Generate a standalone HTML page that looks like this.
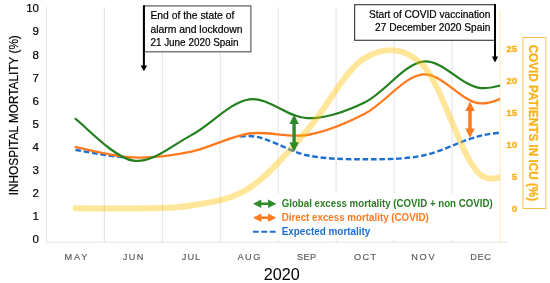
<!DOCTYPE html>
<html lang="en"><head><meta charset="utf-8"><title>Inhospital mortality 2020</title>
<style>html,body{margin:0;padding:0;background:#fff;}body{width:550px;height:283px;overflow:hidden;}svg{display:block;}text{font-family:"Liberation Sans",Arial,sans-serif;}</style>
</head><body>
<svg width="550" height="283" viewBox="0 0 550 283">
<rect x="0" y="0" width="550" height="283" fill="#ffffff"/>
<g stroke="#e4e4e4" stroke-width="1.1" fill="none">
<line x1="46.5" y1="7" x2="46.5" y2="242" />
<line x1="104.4" y1="7" x2="104.4" y2="242" />
<line x1="162.4" y1="7" x2="162.4" y2="242" />
<line x1="220.3" y1="7" x2="220.3" y2="242" />
<line x1="278.2" y1="7" x2="278.2" y2="242" />
<line x1="336.1" y1="7" x2="336.1" y2="242" />
<line x1="394.1" y1="7" x2="394.1" y2="242" />
<line x1="452.0" y1="7" x2="452.0" y2="242" />
<line x1="46" y1="242.3" x2="507.8" y2="242.3" />
</g>
<line x1="500.1" y1="10" x2="500.1" y2="242" stroke="#fff0c4" stroke-width="1.4"/>
<rect x="250" y="193.5" width="249" height="46" fill="#ffffff"/>
<defs><clipPath id="plotclip"><rect x="46" y="0" width="454.1" height="243"/></clipPath></defs>
<g clip-path="url(#plotclip)">
<clipPath id="blueclip"><rect x="46" y="0" width="77" height="243"/><rect x="239" y="0" width="262" height="243"/></clipPath>
<path d="M75.5 150.0 C85.2 151.3 114.1 157.5 133.4 157.8 C152.7 158.1 172.1 155.4 191.4 151.8 C210.7 148.2 230.0 135.4 249.3 136.0 C268.6 136.6 287.9 151.4 307.2 155.3 C326.5 159.2 345.8 159.3 365.1 159.3 C384.5 159.3 403.8 159.4 423.1 155.5 C442.4 151.6 461.7 140.1 481.0 135.7 C500.3 131.3 529.3 130.3 538.9 129.2" fill="none" stroke="#1f6fd1" stroke-width="2.4" stroke-dasharray="5.7 2.7" clip-path="url(#blueclip)"/>
<path d="M75.5 147.1 C85.2 148.8 114.1 156.7 133.4 157.4 C152.7 158.2 172.1 155.6 191.4 151.6 C210.7 147.6 230.0 136.3 249.3 133.5 C268.6 130.7 287.9 138.3 307.2 135.0 C326.5 131.7 345.8 123.7 365.1 113.6 C384.5 103.5 403.8 76.1 423.1 74.4 C442.4 72.7 461.7 102.9 481.0 103.4 C500.3 103.9 529.3 81.7 538.9 77.3" fill="none" stroke="#ff7a1f" stroke-width="2.3" stroke-linecap="round"/>
<path d="M75.5 118.9 C85.2 125.9 114.1 158.0 133.4 160.7 C152.7 163.4 172.1 145.3 191.4 135.1 C210.7 124.9 230.0 102.2 249.3 99.4 C268.6 96.6 287.9 117.7 307.2 118.2 C326.5 118.7 345.8 111.6 365.1 102.2 C384.5 92.8 403.8 64.0 423.1 61.6 C442.4 59.2 461.7 86.5 481.0 88.1 C500.3 89.7 529.3 73.9 538.9 71.1" fill="none" stroke="#23801e" stroke-width="2.2" stroke-linecap="round"/>
<path d="M75.5 208.3 C85.2 208.3 114.1 208.9 133.4 208.4 C152.7 207.9 172.1 208.9 191.4 205.5 C210.7 202.1 230.0 200.4 249.3 187.9 C268.6 175.4 287.9 152.0 307.2 130.3 C326.5 108.6 345.8 68.6 365.1 57.8 C384.5 47.0 403.8 45.9 423.1 65.5 C442.4 85.1 461.7 160.9 481.0 175.2 C500.3 189.5 529.3 155.3 538.9 151.3" fill="none" stroke="#ffc000" stroke-opacity="0.4" stroke-width="6" stroke-linecap="round" stroke-linejoin="round"/>
</g>
<path d="M294.1 114.5 L298.8 124.1 L295.8 124.1 L295.8 142.3 L298.8 142.3 L294.1 151.9 L289.4 142.3 L292.4 142.3 L292.4 124.1 L289.4 124.1 Z" fill="#2e8b2a"/>
<path d="M470.0 101.5 L474.7 111.1 L471.7 111.1 L471.7 128.4 L474.7 128.4 L470.0 138.0 L465.3 128.4 L468.3 128.4 L468.3 111.1 L465.3 111.1 Z" fill="#ff7a1f"/>
<path d="M253.1 203.7 L261.3 199.5 L261.3 202.5 L268.1 202.5 L268.1 199.5 L276.3 203.7 L268.1 207.9 L268.1 204.9 L261.3 204.9 L261.3 207.9 Z" fill="#2e8b2a"/>
<path d="M253.1 217.8 L261.3 213.6 L261.3 216.6 L268.1 216.6 L268.1 213.6 L276.3 217.8 L268.1 222.0 L268.1 219.0 L261.3 219.0 L261.3 222.0 Z" fill="#ff7a1f"/>
<line x1="253" y1="231.7" x2="276" y2="231.7" stroke="#1f6fd1" stroke-width="2" stroke-dasharray="5.8 2.6"/>
<g font-weight="bold" font-size="10.1">
<text x="281.7" y="206.7" fill="#2a7d24" textLength="211" lengthAdjust="spacingAndGlyphs">Global excess mortality (COVID + non COVID)</text>
<text x="281.7" y="220.8" fill="#ff7a1f" textLength="147" lengthAdjust="spacingAndGlyphs">Direct excess mortality (COVID)</text>
<text x="281.7" y="234.5" fill="#1f6fd1" textLength="88.7" lengthAdjust="spacingAndGlyphs">Expected mortality</text>
</g>
<g font-size="11.5" fill="#000000" stroke="#000000" stroke-width="0.2" text-anchor="end">
<text x="39" y="242.9">0</text>
<text x="39" y="219.8">1</text>
<text x="39" y="196.8">2</text>
<text x="39" y="173.8">3</text>
<text x="39" y="150.7">4</text>
<text x="39" y="127.7">5</text>
<text x="39" y="104.6">6</text>
<text x="39" y="81.6">7</text>
<text x="39" y="58.5">8</text>
<text x="39" y="35.4">9</text>
<text x="39" y="12.4">10</text>
</g>
<text transform="translate(18.2 115.2) rotate(-90)" text-anchor="middle" font-size="13" fill="#000000" stroke="#000000" stroke-width="0.2" textLength="160" lengthAdjust="spacingAndGlyphs">INHOSPITAL MORTALITY (%)</text>
<g font-size="9.9" font-weight="bold" fill="#f7b21a" stroke="#f7b21a" stroke-width="0.3" text-anchor="end">
<text x="517.2" y="211.8">0</text>
<text x="517.2" y="179.8">5</text>
<text x="517.2" y="147.7">10</text>
<text x="517.2" y="115.7">15</text>
<text x="517.2" y="83.6">20</text>
<text x="517.2" y="51.6">25</text>
</g>
<rect x="523" y="37.5" width="22.8" height="171" fill="#ffffff" stroke="#f5c04a" stroke-width="1"/>
<text transform="translate(528.6 122.9) rotate(90)" text-anchor="middle" font-size="13.5" font-weight="bold" fill="#f7b21a" stroke="#f7b21a" stroke-width="0.3" textLength="156.5" lengthAdjust="spacingAndGlyphs">COVID PATIENTS IN ICU (%)</text>
<g font-size="9.2" fill="#595959" stroke="#595959" stroke-width="0.15">
<text x="64.5" y="260.3" textLength="22.8" lengthAdjust="spacing">MAY</text>
<text x="122.7" y="260.3" textLength="20.8" lengthAdjust="spacing">JUN</text>
<text x="181.8" y="260.3" textLength="18.4" lengthAdjust="spacing">JUL</text>
<text x="237.5" y="260.3" textLength="22.8" lengthAdjust="spacing">AUG</text>
<text x="297.1" y="260.3" textLength="19.1" lengthAdjust="spacing">SEP</text>
<text x="353.9" y="260.3" textLength="22.2" lengthAdjust="spacing">OCT</text>
<text x="411.2" y="260.3" textLength="23.4" lengthAdjust="spacing">NOV</text>
<text x="470.3" y="260.3" textLength="20.5" lengthAdjust="spacing">DEC</text>
</g>
<text x="281.8" y="279.8" text-anchor="middle" font-size="16.2" fill="#000000">2020</text>
<rect x="144.2" y="5.9" width="106.7" height="45.9" fill="#ffffff" stroke="#555555" stroke-width="1.15"/>
<path d="M143.9 5.3 L143.9 66.5" stroke="#000000" stroke-width="2" fill="none"/>
<path d="M140.6 65.6 L147.2 65.6 L143.9 71.3 Z" fill="#000000"/>
<g font-size="10.3" fill="#000000" stroke="#000000" stroke-width="0.2">
<text x="150.4" y="18.9" textLength="83.9" lengthAdjust="spacingAndGlyphs">End of the state of</text>
<text x="150.4" y="32.6" textLength="92.2" lengthAdjust="spacingAndGlyphs">alarm and lockdown</text>
<text x="150.4" y="46.3" textLength="88.1" lengthAdjust="spacingAndGlyphs">21 June 2020 Spain</text>
</g>
<rect x="354.6" y="4.7" width="140.4" height="35.6" fill="#ffffff" stroke="#444444" stroke-width="1.2"/>
<path d="M495 4.1 L495 57.5" stroke="#000000" stroke-width="2" fill="none"/>
<path d="M491.9 56.6 L498.1 56.6 L495 62.6 Z" fill="#000000"/>
<g font-size="10.3" fill="#000000" stroke="#000000" stroke-width="0.2" text-anchor="end">
<text x="490.3" y="17.9" textLength="121.3" lengthAdjust="spacingAndGlyphs">Start of COVID vaccination</text>
<text x="490.3" y="31.1" textLength="115.3" lengthAdjust="spacingAndGlyphs">27 December 2020 Spain</text>
</g>
</svg>
</body></html>
